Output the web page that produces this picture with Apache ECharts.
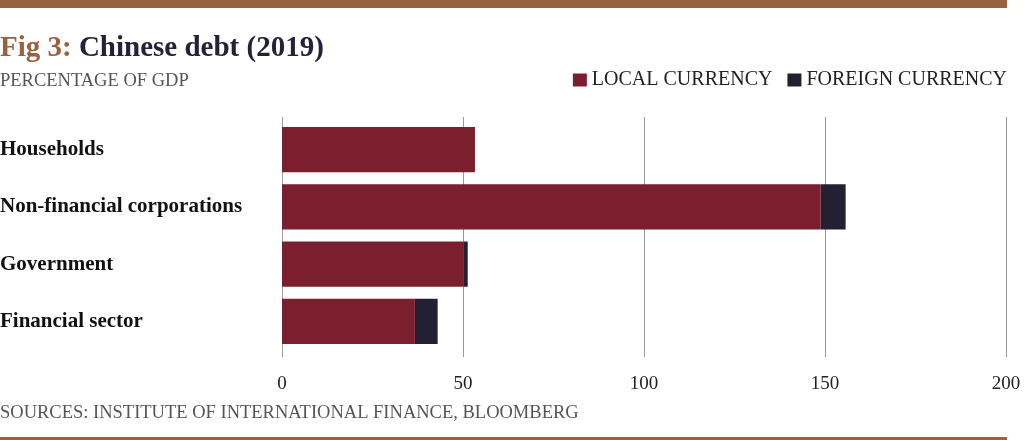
<!DOCTYPE html>
<html><head><meta charset="utf-8">
<script src="https://cdn.jsdelivr.net/npm/echarts@6/dist/echarts.min.js"></script>
<style>html,body{margin:0;padding:0;background:#fff}#c{width:1024px;height:441px}</style>
</head><body><div id="c"></div>
<script>
const categories = ['Households', 'Non-financial corporations', 'Government', 'Financial sector'];
const localCurrency = [53.3, 148.8, 50.2, 36.7];
const foreignCurrency = [0, 6.9, 1.1, 6.3];
const xTicks = [0, 50, 100, 150, 200];

const serif = '"Liberation Serif", "DejaVu Serif", serif';
const chart = echarts.init(document.getElementById('c'));
chart.setOption({
  backgroundColor: '#fff',
  animation: false,
  title: {
    left: 0, top: 34, padding: 0,
    text: '{a|Fig 3: }{b|Chinese debt (2019)}',
    textStyle: { rich: {
      a: { fontFamily: serif, fontWeight: 'bold', fontSize: 29, color: '#98613F' },
      b: { fontFamily: serif, fontWeight: 'bold', fontSize: 29, color: '#232238' }
    }},
    subtext: 'PERCENTAGE OF GDP',
    subtextStyle: { fontFamily: serif, fontSize: 18.5, color: '#555' },
    itemGap: 9
  },
  legend: {
    right: 17, top: 70, padding: 0,
    itemWidth: 14, itemHeight: 13, itemGap: 15, itemTextGap: 7,
    icon: 'rect',
    textStyle: { fontFamily: serif, fontSize: 20, color: '#222' },
    data: ['LOCAL CURRENCY', 'FOREIGN CURRENCY']
  },
  grid: [
    { left: 282, right: 18, top: 121, bottom: 91, outerBoundsMode: 'none', containLabel: false },
    { left: 282, right: 18, top: 117, bottom: 84, outerBoundsMode: 'none', containLabel: false }
  ],
  xAxis: [
    { gridIndex: 0, type: 'value', min: 0, max: 200, interval: 50,
      axisLine: { show: false }, axisTick: { show: false },
      splitLine: { show: false }, axisLabel: { show: false } },
    { gridIndex: 1, type: 'value', min: 0, max: 200, interval: 50,
      axisLine: { show: false }, axisTick: { show: false },
      splitLine: { show: true, lineStyle: { color: '#999', width: 1 } },
      axisLabel: { margin: 18, fontFamily: serif, fontSize: 19, color: '#222',
        formatter: v => xTicks.includes(v) ? String(v) : '' } }
  ],
  yAxis: [
    { gridIndex: 0, type: 'category', data: categories, inverse: true,
      axisLine: { show: false }, axisTick: { show: false },
      axisLabel: { align: 'left', margin: 282, fontFamily: serif, fontWeight: 'bold', fontSize: 21, color: '#111', padding: [3, 0, 0, 0] } },
    { gridIndex: 1, type: 'value', show: false }
  ],
  series: [
    { name: 'LOCAL CURRENCY', type: 'bar', stack: 'a', data: localCurrency, barWidth: '79%',
      itemStyle: { color: '#7B1E2E' } },
    { name: 'FOREIGN CURRENCY', type: 'bar', stack: 'a', data: foreignCurrency, barWidth: '79%',
      itemStyle: { color: '#232034' } }
  ],
  graphic: [
    { type: 'rect', left: 0, top: 0, shape: { width: 1007, height: 8 }, style: { fill: '#98613F' } },
    { type: 'rect', left: 0, top: 437, shape: { width: 1007, height: 3 }, style: { fill: '#98613F' } },
    { type: 'text', left: 0, top: 404, style: { text: 'SOURCES: INSTITUTE OF INTERNATIONAL FINANCE, BLOOMBERG', font: '18.5px ' + serif, fill: '#555' } }
  ]
});
</script></body></html>
